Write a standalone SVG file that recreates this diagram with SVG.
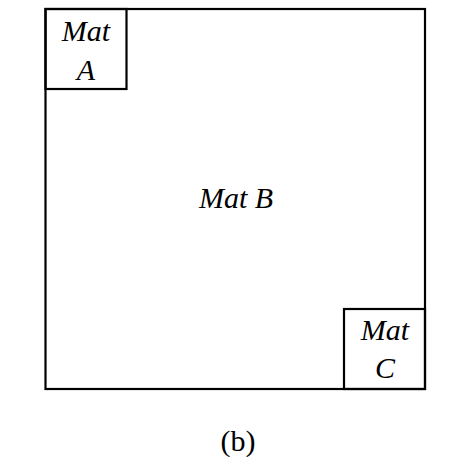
<svg xmlns="http://www.w3.org/2000/svg" width="474" height="474" viewBox="0 0 474 474">
<style>
.box{fill:none;stroke:#000;stroke-width:2.2}
.lbl{font-family:"Liberation Serif","Times New Roman",serif;font-style:italic;font-size:30px;fill:#000;text-anchor:middle}
.cap{font-family:"Liberation Serif","Times New Roman",serif;font-size:30px;fill:#000;text-anchor:middle}
</style>
<rect width="474" height="474" fill="#fff"/>
<g id="matB">
<rect class="box" x="45.5" y="9" width="379.5" height="380"/>
<text class="lbl" x="236" y="208">Mat B</text>
</g>
<g id="matA">
<rect class="box" x="45.5" y="9" width="81" height="80"/>
<text class="lbl" x="86" y="41">Mat</text>
<text class="lbl" x="86" y="80">A</text>
</g>
<g id="matC">
<rect class="box" x="344" y="309" width="81" height="80"/>
<text class="lbl" x="385" y="340">Mat</text>
<text class="lbl" x="385" y="378">C</text>
</g>
<g id="connectors"></g>
<text class="cap" x="238" y="451">(b)</text>
</svg>
